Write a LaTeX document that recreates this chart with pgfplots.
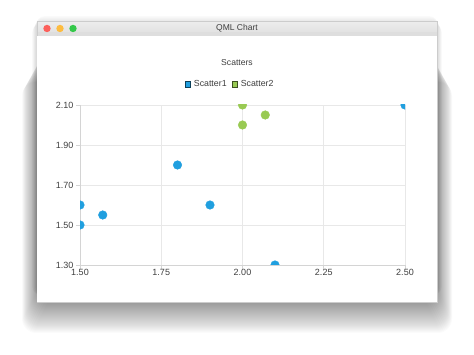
\documentclass[border=0pt]{standalone}
\usepackage{pgfplots}
\pgfplotsset{compat=1.18}
\usepackage{fontspec}
\setmainfont{Liberation Sans}
\definecolor{sOne}{HTML}{209FDF}
\definecolor{sTwo}{HTML}{99CA53}
\definecolor{gridc}{HTML}{E8E8E8}
\definecolor{axc}{HTML}{D4D4D4}
\definecolor{txt}{HTML}{3F3F3F}
\definecolor{tlr}{HTML}{FC605B}
\definecolor{tly}{HTML}{FDBC40}
\definecolor{tlg}{HTML}{34C84A}
\begin{document}
\begin{tikzpicture}[x=1pt,y=1pt]
\useasboundingbox (0,0) rectangle (474,355);
% shadow
\foreach \i in {1,...,30}{
  \fill[black,opacity=0.016,rounded corners=14] (37-0.5*\i,52-1.0*\i) rectangle (437+0.5*\i,300-0.9*\i);
}
\foreach \i in {1,...,8}{
  \fill[black,opacity=0.02,rounded corners=8] (37-0.6*\i,340-1.2*\i) rectangle (437+0.6*\i,60);
}
% window
\fill[white] (37,53) rectangle (437,319);
\shade[top color=black!7,bottom color=black!13,rounded corners=3] (37,319) rectangle (437,334);
\fill[black!13] (37,319) rectangle (437,323);
\draw[black!20,line width=0.4] (37,53) rectangle (437,334);
\draw[black!28,line width=0.5] (37,319) -- (437,319);
\fill[white] (37.3,53.3) rectangle (436.7,318.7);
\fill[tlr] (47,326.5) circle (3.7);
\fill[tly] (60,326.5) circle (3.7);
\fill[tlg] (73,326.5) circle (3.7);
\node[txt,font=\fontsize{8.5}{10}\selectfont] at (237,326.5) {QML Chart};
\node[txt,font=\fontsize{8.6}{10}\selectfont] at (237,292) {Scatters};
\begin{axis}[
  at={(80pt,90pt)}, anchor=south west,
  scale only axis, width=325pt, height=160pt,
  xmin=1.5, xmax=2.5, ymin=1.3, ymax=2.1,
  xtick={1.5,1.75,2,2.25,2.5},
  ytick={1.3,1.5,1.7,1.9,2.1},
  /pgf/number format/.cd, fixed, fixed zerofill, precision=2, assume math mode=true,
  /pgfplots/.cd,
  grid=major,
  major grid style={gridc, line width=0.6},
  axis line style={axc, line width=0.6},
  tick style={axc, line width=0.6},
  tick align=outside,
  major tick length=4pt,
  axis x line*=bottom, axis y line*=left,
  ticklabel style={txt, font=\fontsize{9}{10}\selectfont},
  xticklabel style={yshift=3pt},
  yticklabel style={xshift=1pt},
  clip mode=individual,
  clip marker paths=true,
  legend style={at={(0.462,1.13)}, anchor=center, draw=none, fill=none,
    legend columns=2, font=\fontsize{8.8}{10}\selectfont, text=txt,
    /tikz/every even column/.append style={column sep=3pt},
    /tikz/every odd column/.append style={column sep=1pt},
    inner sep=0pt},
]
\addplot[only marks, mark=*, mark size=4.3pt, mark options={draw=sOne, fill=sOne},
  legend image code/.code={\draw[fill=sOne, draw=black!60!sOne, line width=0.5pt] (0pt,-2.8pt) rectangle (5.6pt,2.8pt);}]
  coordinates {(1.5,1.5) (1.5,1.6) (1.57,1.55) (1.8,1.8) (1.9,1.6) (2.1,1.3) (2.5,2.1)};
\addlegendentry{Scatter1}
\addplot[only marks, mark=*, mark size=4.3pt, mark options={draw=sTwo, fill=sTwo},
  legend image code/.code={\draw[fill=sTwo, draw=black!60!sTwo, line width=0.5pt] (0pt,-2.8pt) rectangle (5.6pt,2.8pt);}]
  coordinates {(2.0,2.0) (2.0,2.1) (2.07,2.05) (2.2,2.9) (2.4,2.7) (2.67,2.65)};
\addlegendentry{Scatter2}
\end{axis}
\end{tikzpicture}
\end{document}
